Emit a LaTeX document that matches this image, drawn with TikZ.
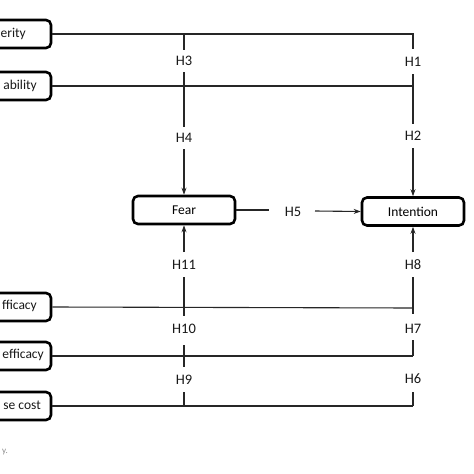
\documentclass[tikz,border=0pt]{standalone}
\usepackage{fontspec}
\setmainfont{Carlito}
\usetikzlibrary{arrows.meta}
\begin{document}
\begin{tikzpicture}[x=1pt,y=-1pt,
  box/.style={draw=black, line width=2.6pt, rounded corners=5pt, minimum width=102pt, minimum height=28pt, inner sep=0pt, font=\fontsize{13.5}{15}\selectfont},
  txt/.style={font=\fontsize{13.5}{15}\selectfont, inner sep=0pt, text=black!90},
  hl/.style={font=\fontsize{14.5}{16}\selectfont, inner sep=0pt, text=black!90},
  ln/.style={draw=black!85, line width=1.1pt},
  arr/.style={ln, -{Stealth[length=7pt,width=5pt]}}]
\useasboundingbox (0,0) rectangle (474,474);
\fill[white] (0,0) rectangle (474,474);
% left boxes (cropped)
\node[box] (sev) at (0,34) {};
\node[txt, anchor=east] (sevt) at (26,34) {erity};
\node[box] (vul) at (0,86) {};
\node[txt, anchor=east] (vult) at (37,86) {ability};
\node[box] (ref) at (0,307) {};
\node[txt, anchor=east] (reft) at (37,306) {fficacy};
\node[box] (sef) at (0,356) {};
\node[txt, anchor=east] (seft) at (44,355) {efficacy};
\node[box] (rco) at (0,406) {};
\node[txt, anchor=east] (rcot) at (41,405) {se cost};
% centre boxes
\node[box] (fear) at (184,210) {Fear};
\node[box] (int) at (413,211.5) {Intention};
% labels
\node[hl] (h1) at (413,62) {H1};
\node[hl] (h2) at (413,136) {H2};
\node[hl] (h3) at (184,61) {H3};
\node[hl] (h4) at (184,138) {H4};
\node[hl] (h5) at (293,212) {H5};
\node[hl] (h6) at (413,379) {H6};
\node[hl] (h7) at (413,329) {H7};
\node[hl] (h8) at (413,265) {H8};
\node[hl] (h9) at (184,380) {H9};
\node[hl] (h10) at (184,329) {H10};
\node[hl] (h11) at (184,265) {H11};
% coordinates
\coordinate (c1) at (413,34);
\coordinate (c2) at (413,86);
\coordinate (c6) at (413,406);
\coordinate (c7) at (413,356);
\coordinate (c8) at (413,308);
% top connectors
\draw[ln] (sev.east) -- (c1) -- (413,49);
\draw[ln] (vul.east) -- (c2);
\draw[ln] (413,74) -- (413,124);
\draw[arr] (413,148) -- (int.north);
\draw[ln] (184,34) -- (184,50);
\draw[ln] (184,72) -- (184,127);
\draw[arr] (184,149) -- (fear.north);
% H5
\draw[ln] (fear.east) -- (269,210);
\draw[arr] (315,211) -- (int.west);
% bottom connectors
\draw[ln] (ref.east) -- (c8);
\draw[ln] (sef.east) -- (c7);
\draw[ln] (rco.east) -- (c6);
\draw[arr] (184,252) -- (fear.south);
\draw[ln] (184,277) -- (184,316);
\draw[ln] (184,345) -- (184,367);
\draw[ln] (184,392) -- (184,406);
\draw[arr] (413,252) -- (int.south);
\draw[ln] (413,277) -- (413,314);
\draw[ln] (413,340) -- (c7);
\draw[ln] (413,392) -- (c6);
% caption fragment
\node[anchor=east, inner sep=0pt, text=black!45, font=\fontsize{9}{10}\selectfont] (cap) at (8,452) {y.};
\end{tikzpicture}
\end{document}
